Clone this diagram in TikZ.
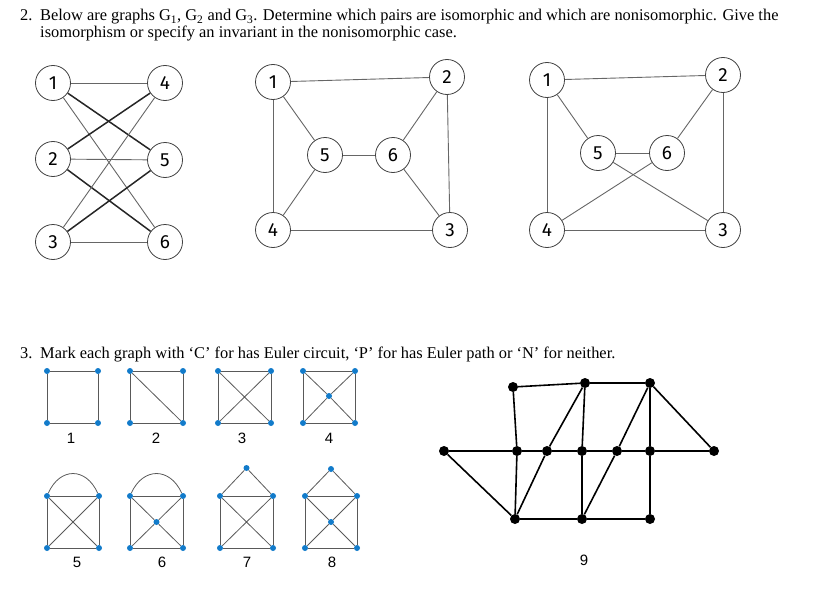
\documentclass[tikz,border=0pt]{standalone}
\usepackage{fontspec}
\setmainfont{Liberation Serif}
\newfontfamily\arialf{Liberation Sans}
\newfontfamily\handf{Fira Sans}
\begin{document}
\begin{tikzpicture}[x=1pt,y=-1pt,
  vtx/.style={circle,draw=black!75,thick,minimum size=35pt,inner sep=0pt,font=\handf\fontsize{19}{19}\selectfont},
  thinedge/.style={draw=black!60,line width=0.9pt},
  thickedge/.style={draw=black!85,line width=1.5pt},
  bdot/.style={circle,fill=cyan!60!blue,inner sep=0pt,minimum size=6pt},
  kdot/.style={circle,fill=black,inner sep=0pt,minimum size=10pt},
  sedge/.style={draw=black!65,line width=0.8pt},
  kedge/.style={draw=black,line width=1.6pt},
  lab/.style={font=\arialf\fontsize{15}{15}\selectfont},
  txt/.style={anchor=base west,inner sep=0pt,font=\fontsize{16.4}{18}\selectfont}]
\useasboundingbox (0,0) rectangle (822,594);
% text
\node[txt] (n2) at (20,21) {2.};
\node[txt] (t2a) at (40,21) {Below are graphs G\textsubscript{1}, G\textsubscript{2} and G\textsubscript{3}. Determine which pairs are isomorphic and which are nonisomorphic. Give the};
\node[txt] (t2b) at (40,38) {isomorphism or specify an invariant in the nonisomorphic case.};
\node[txt] (n3) at (20,358) {3.};
\node[txt] (t3) at (40,358) {Mark each graph with `C' for has Euler circuit, `P' for has Euler path or `N' for neither.};
% G1
\node[vtx] (a1) at (53,83) {1};
\node[vtx] (a4) at (165,83) {4};
\node[vtx] (a2) at (53,159) {2};
\node[vtx] (a5) at (165,160) {5};
\node[vtx] (a3) at (53,242) {3};
\node[vtx] (a6) at (165,242) {6};
\draw[thinedge] (a1)--(a4); \draw[thickedge] (a1)--(a5); \draw[thinedge] (a1)--(a6);
\draw[thickedge] (a2)--(a4); \draw[thinedge] (a2)--(a5); \draw[thickedge] (a2)--(a6);
\draw[thinedge] (a3)--(a4); \draw[thickedge] (a3)--(a5); \draw[thinedge] (a3)--(a6);
% G2
\node[vtx] (b1) at (273,82) {1};
\node[vtx] (b2) at (447,77) {2};
\node[vtx] (b5) at (325,155) {5};
\node[vtx] (b6) at (393,155) {6};
\node[vtx] (b4) at (273,230) {4};
\node[vtx] (b3) at (450,230) {3};
\foreach \u/\v in {b1/b2,b1/b4,b1/b5,b2/b6,b2/b3,b5/b6,b5/b4,b6/b3,b4/b3}
  \draw[thinedge] (\u)--(\v);
% G3
\node[vtx] (c1) at (547,80) {1};
\node[vtx] (c2) at (723,75) {2};
\node[vtx] (c5) at (598,153) {5};
\node[vtx] (c6) at (667,153) {6};
\node[vtx] (c4) at (547,230) {4};
\node[vtx] (c3) at (723,230) {3};
\foreach \u/\v in {c1/c2,c1/c4,c1/c5,c2/c6,c2/c3,c5/c6,c5/c3,c6/c4,c4/c3}
  \draw[thinedge] (\u)--(\v);
% small graphs row 1
\foreach \k/\xl/\xr in {1/47/98,2/130/183,3/218/271,4/303/355}{
  \node[bdot] (s\k tl) at (\xl,371) {};
  \node[bdot] (s\k tr) at (\xr,371) {};
  \node[bdot] (s\k bl) at (\xl,423) {};
  \node[bdot] (s\k br) at (\xr,423) {};
  \draw[sedge] (s\k tl)--(s\k tr)--(s\k br)--(s\k bl)--(s\k tl);
}
\draw[sedge] (s2tl)--(s2br);
\draw[sedge] (s3tl)--(s3br) (s3tr)--(s3bl);
\node[bdot] (s4c) at (329,396) {};
\draw[sedge] (s4tl)--(s4c)--(s4br) (s4tr)--(s4c)--(s4bl);
\node[lab] (l1) at (71,438) {1};
\node[lab] (l2) at (156,438) {2};
\node[lab] (l3) at (242,438) {3};
\node[lab] (l4) at (329,438) {4};
% row 2
\foreach \k/\xl/\xr in {5/47/99,6/130/183,7/220/273,8/305/357}{
  \node[bdot] (s\k tl) at (\xl,496) {};
  \node[bdot] (s\k tr) at (\xr,496) {};
  \node[bdot] (s\k bl) at (\xl,548) {};
  \node[bdot] (s\k br) at (\xr,548) {};
  \draw[sedge] (s\k tl)--(s\k tr)--(s\k br)--(s\k bl)--(s\k tl);
}
\draw[sedge] (s5tl)--(s5br) (s5tr)--(s5bl);
\draw[sedge] (s5tl) .. controls (60,467) and (86,467) .. (s5tr);
\node[bdot] (s6c) at (156.5,522) {};
\draw[sedge] (s6tl)--(s6c)--(s6br) (s6tr)--(s6c)--(s6bl);
\draw[sedge] (s6tl) .. controls (143,467) and (170,467) .. (s6tr);
\draw[sedge] (s7tl)--(s7br) (s7tr)--(s7bl);
\node[bdot] (s7a) at (246.5,468) {};
\draw[sedge] (s7tl)--(s7a)--(s7tr);
\node[bdot] (s8c) at (331,522) {};
\draw[sedge] (s8tl)--(s8c)--(s8br) (s8tr)--(s8c)--(s8bl);
\node[bdot] (s8a) at (331,469) {};
\draw[sedge] (s8tl)--(s8a)--(s8tr);
\node[lab] (l5) at (77,562) {5};
\node[lab] (l6) at (162,562) {6};
\node[lab] (l7) at (247,562) {7};
\node[lab] (l8) at (332,562) {8};
% graph 9
\node[kdot] (t1) at (513,387) {};
\node[kdot] (t2) at (585,383) {};
\node[kdot] (t3) at (650,383) {};
\node[kdot] (m1) at (444,451) {};
\node[kdot] (m2) at (517,451) {};
\node[kdot] (m3) at (547,451) {};
\node[kdot] (m4) at (582,451) {};
\node[kdot] (m5) at (617,451) {};
\node[kdot] (m6) at (650,451) {};
\node[kdot] (m7) at (714,451) {};
\node[kdot] (u1) at (515,519) {};
\node[kdot] (u2) at (582,519) {};
\node[kdot] (u3) at (650,519) {};
\foreach \u/\v in {t1/t2,t2/t3,t1/m2,m2/u1,t2/m4,m4/u2,t3/m6,m6/u3,m1/m2,m2/m3,m3/m4,m4/m5,m5/m6,m6/m7,m1/u1,u1/m3,m3/t2,u2/m5,m5/t3,t3/m7,u1/u2,u2/u3}
  \draw[kedge] (\u)--(\v);
\node[lab] (l9) at (584,560) {9};
\end{tikzpicture}
\end{document}
